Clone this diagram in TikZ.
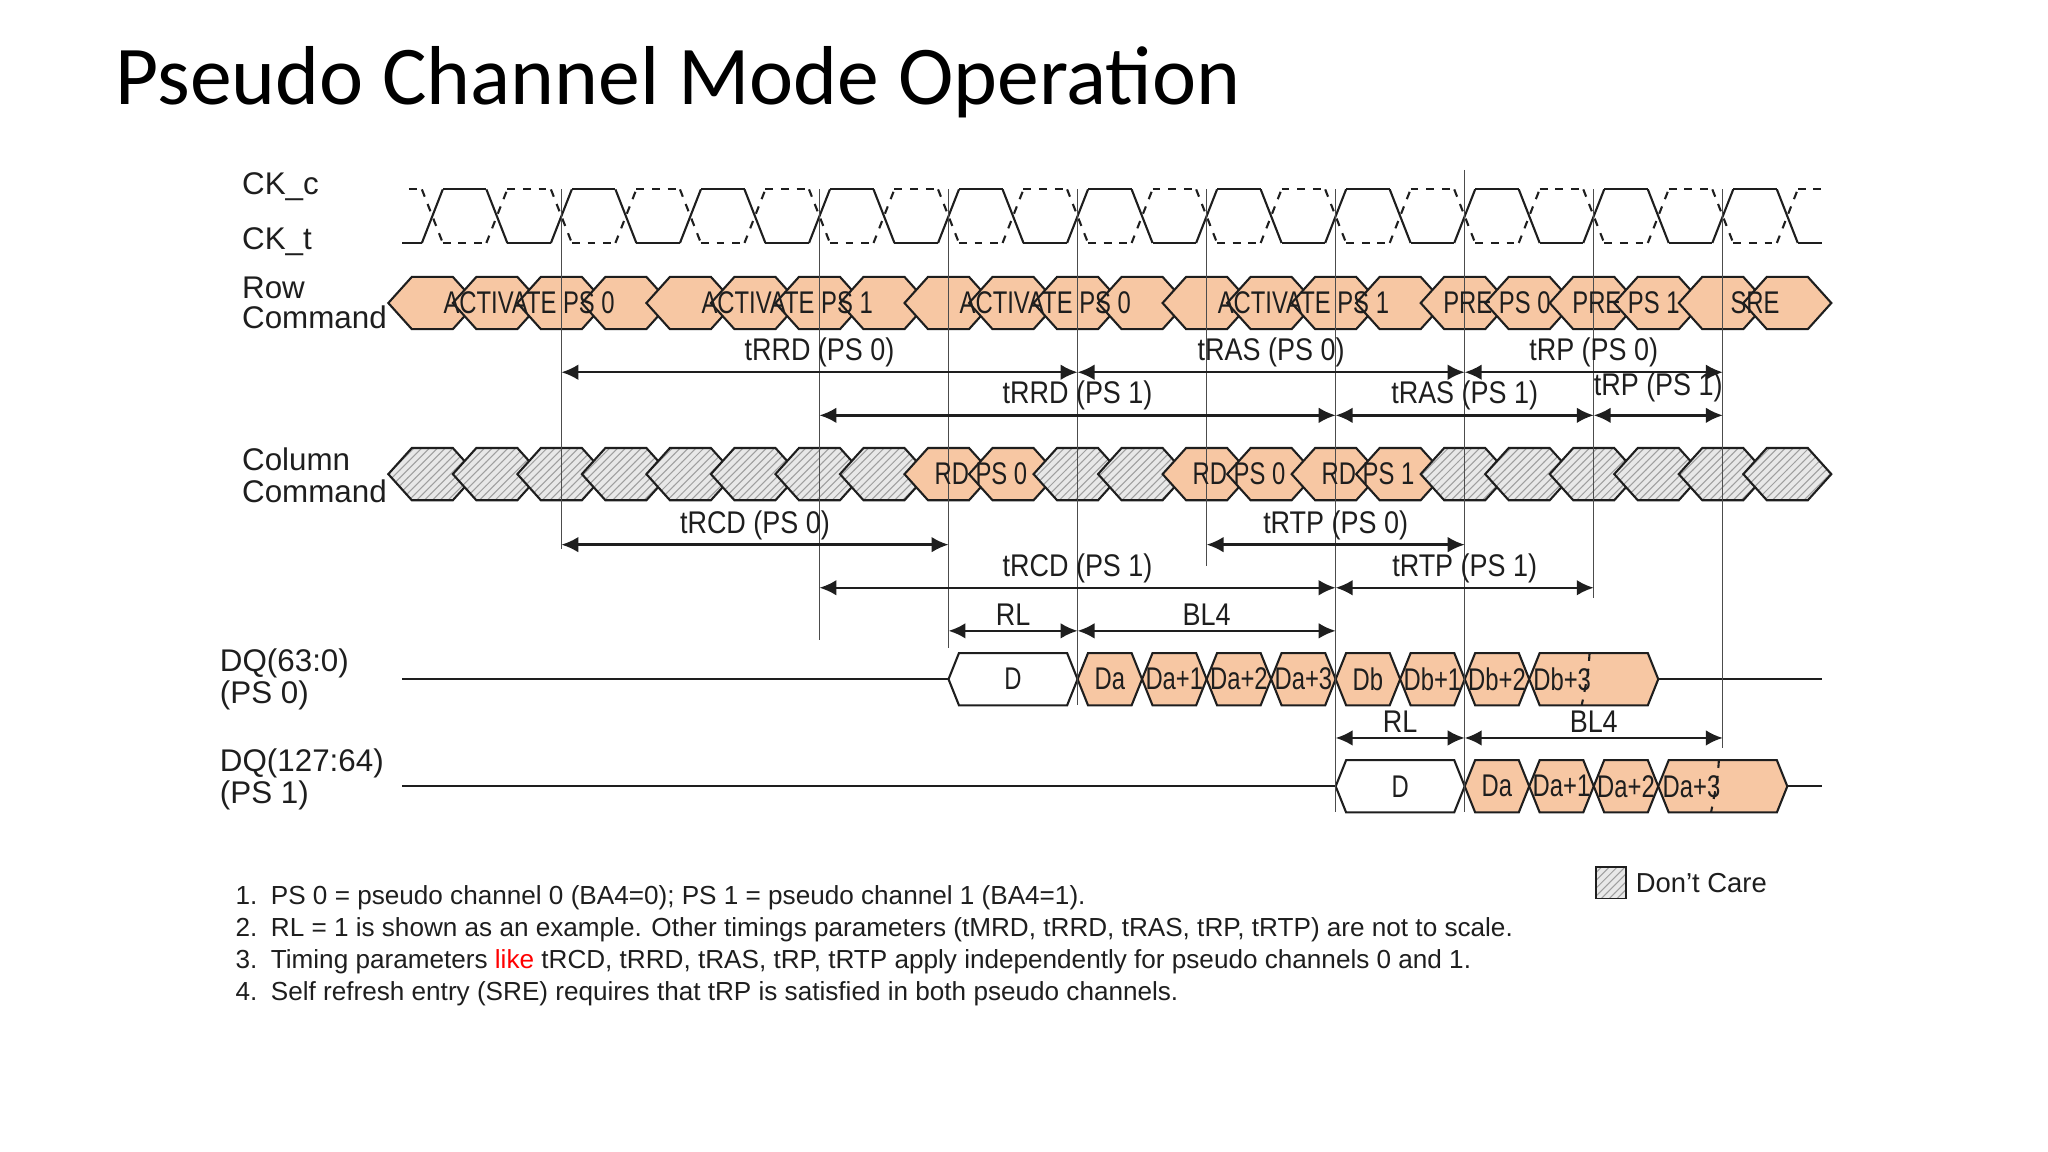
\documentclass[tikz,border=0pt]{standalone}
\usepackage{fontspec}
\setmainfont{Liberation Sans}
\newfontfamily\titlef{Carlito}
\newfontfamily\hexf{Liberation Sans}[FakeStretch=0.76]
\newfontfamily\lblf{Liberation Sans}[FakeStretch=0.86]
\usetikzlibrary{arrows.meta,patterns}
\definecolor{peach}{HTML}{F7C7A3}
\definecolor{ink}{HTML}{1E1E1E}
\tikzset{
  sig/.style={draw=ink,line width=0.8pt},
  hexo/.style={sig,fill=peach},
  hexw/.style={sig,fill=white},
  hexd/.style={sig,preaction={fill=gray!18},pattern=north east lines,pattern color=gray!75},
  vline/.style={draw=gray!60!black,line width=0.5pt},
  dim/.style={draw=ink,line width=0.9pt,{Latex[length=6.5pt,width=6pt]}-{Latex[length=6.5pt,width=6pt]}},
  dlab/.style={above,inner sep=1.5pt,font=\lblf\fontsize{12}{12}\selectfont,text=ink},
  htxt/.style={font=\hexf\fontsize{12}{12}\selectfont,text=ink,inner sep=0pt},
  side/.style={anchor=west,align=left,text=ink,inner sep=0pt},
  note/.style={anchor=west,text=ink,inner sep=0pt,font=\fontsize{10}{12}\selectfont}
}
% cell hexagon with tips overlapping the boundaries (x_l, x_r, y_center)
\newcommand\chex[4]{\path[#4] ({#1-9},#3) -- ({#1+9},#3-20) -- ({#2-9},#3-20) -- ({#2+9},#3) -- ({#2-9},#3+20) -- ({#1+9},#3+20) -- cycle;}
% data hexagon with tips at the boundaries
\newcommand\dhex[4]{\path[#4] (#1,#3) -- ({#1+8},#3-20) -- ({#2-8},#3-20) -- (#2,#3) -- ({#2-8},#3+20) -- ({#1+8},#3+20) -- cycle;}
\begin{document}
\begin{tikzpicture}[x=0.5pt,y=-0.5pt]
\useasboundingbox[fill=white] (0,0) rectangle (1568,882);
% title
\node[anchor=west,inner sep=0pt,font=\titlef\fontsize{32}{36}\selectfont] (title) at (88,63) {Pseudo Channel Mode Operation};
% side labels
\node[side,font=\fontsize{12}{12}\selectfont] (ckc) at (185,143) {CK\_c};
\node[side,font=\fontsize{12}{12}\selectfont] (ckt) at (185,185) {CK\_t};
\node[side,font=\fontsize{12}{11.5}\selectfont] (rowl) at (185,232) {Row\\Command};
\node[side,font=\fontsize{12}{12}\selectfont] (coll) at (185,364) {Column\\Command};
\node[side,font=\fontsize{12}{9}\selectfont] (dq0l) at (168,520) {DQ(63:0)\\(PS 0)};
\node[side,font=\fontsize{12}{9}\selectfont] (dq1l) at (168,597) {DQ(127:64)\\(PS 1)};
% clock
\draw[sig] (308,186) -- (323,186);
\draw[sig,dashed] (313,145) -- (323,145);
\foreach \k in {0,...,21}{
  \pgfmathsetmacro\xc{331+49.4*\k}
  \pgfmathsetmacro\xn{331+49.4*(\k+1)}
  \ifodd\k
    \draw[sig] ({\xc-8},145) -- ({\xc+8},186);
    \draw[sig,dashed] ({\xc-8},186) -- ({\xc+8},145);
    \ifnum\k<21
      \draw[sig] ({\xc+8},186) -- ({\xn-8},186);
      \draw[sig,dashed] ({\xc+8},145) -- ({\xn-8},145);
    \fi
  \else
    \draw[sig] ({\xc-8},186) -- ({\xc+8},145);
    \draw[sig,dashed] ({\xc-8},145) -- ({\xc+8},186);
    \draw[sig] ({\xc+8},145) -- ({\xn-8},145);
    \draw[sig,dashed] ({\xc+8},186) -- ({\xn-8},186);
  \fi
}
\draw[sig] (1376.4,186) -- (1395,186);
\draw[sig,dashed] (1376.4,145) -- (1395,145);
% row and column command cells
\foreach \k in {0,...,21}{
  \pgfmathsetmacro\bl{306.3+49.4*\k}
  \pgfmathsetmacro\br{306.3+49.4*(\k+1)}
  \chex{\bl}{\br}{232}{hexo}
  \def\st{hexd}
  \ifnum\k=8 \def\st{hexo}\fi
  \ifnum\k=9 \def\st{hexo}\fi
  \ifnum\k>11 \ifnum\k<16 \def\st{hexo}\fi\fi
  \chex{\bl}{\br}{363}{\st}
}
% DQ0
\draw[sig] (308,520) -- (726.2,520);
\dhex{726.2}{825}{520}{hexw}
\dhex{825}{874.4}{520}{hexo}
\dhex{874.4}{923.8}{520}{hexo}
\dhex{923.8}{973.2}{520}{hexo}
\dhex{973.2}{1022.6}{520}{hexo}
\dhex{1022.6}{1072}{520}{hexo}
\dhex{1072}{1121.4}{520}{hexo}
\dhex{1121.4}{1170.8}{520}{hexo}
\dhex{1170.8}{1269.6}{520}{hexo}
\draw[sig] (1269.6,520) -- (1395,520);
\draw[sig,dashed] (1217,500) .. controls (1216,515) .. (1211,540);
% DQ1
\draw[sig] (308,602) -- (1022.6,602);
\dhex{1022.6}{1121.4}{602}{hexw}
\dhex{1121.4}{1170.8}{602}{hexo}
\dhex{1170.8}{1220.2}{602}{hexo}
\dhex{1220.2}{1269.6}{602}{hexo}
\dhex{1269.6}{1368.4}{602}{hexo}
\draw[sig] (1368.4,602) -- (1395,602);
\draw[sig,dashed] (1316,582) .. controls (1315,597) .. (1310,622);
% vertical reference lines
\draw[vline] (429.8,145) -- (429.8,420);
\draw[vline] (627.4,145) -- (627.4,490);
\draw[vline] (726.2,145) -- (726.2,496);
\draw[vline] (825,145) -- (825,540);
\draw[vline] (923.8,145) -- (923.8,433);
\draw[vline] (1022.6,145) -- (1022.6,622);
\draw[vline] (1121.4,130) -- (1121.4,622);
\draw[vline] (1220.2,145) -- (1220.2,458);
\draw[vline] (1319,145) -- (1319,573);
% texts in cells
\node[htxt] (r1) at (405.1,232) {ACTIVATE PS 0};
\node[htxt] (r2) at (602.7,232) {ACTIVATE PS 1};
\node[htxt] (r3) at (800.3,232) {ACTIVATE PS 0};
\node[htxt] (r4) at (997.9,232) {ACTIVATE PS 1};
\node[htxt] (r5) at (1146.1,232) {PRE PS 0};
\node[htxt] (r6) at (1244.9,232) {PRE PS 1};
\node[htxt] (r7) at (1343.7,232) {SRE};
\node[htxt] (c1) at (751,363) {RD PS 0};
\node[htxt] (c2) at (948.6,363) {RD PS 0};
\node[htxt] (c3) at (1047.4,363) {RD PS 1};
\node[htxt] (d0) at (775.6,520) {D};
\node[htxt] (d1) at (849.7,520) {Da};
\node[htxt] (d2) at (899.1,520) {Da+1};
\node[htxt] (d3) at (948.5,520) {Da+2};
\node[htxt] (d4) at (997.9,520) {Da+3};
\node[htxt] (d5) at (1047.3,520) {Db};
\node[htxt] (d6) at (1096.7,520) {Db+1};
\node[htxt] (d7) at (1146.1,520) {Db+2};
\node[htxt] (d8) at (1196,520) {Db+3};
\node[htxt] (e0) at (1072,602) {D};
\node[htxt] (e1) at (1146.1,602) {Da};
\node[htxt] (e2) at (1195.5,602) {Da+1};
\node[htxt] (e3) at (1244.9,602) {Da+2};
\node[htxt] (e4) at (1295,602) {Da+3};
% timing arrows
\coordinate (A2) at (429.8,285); \coordinate (A10) at (825,285); \coordinate (A16) at (1121.4,285); \coordinate (A20) at (1319,285);
\coordinate (B6) at (627.4,318); \coordinate (B14) at (1022.6,318); \coordinate (B18) at (1220.2,318); \coordinate (B20) at (1319,318);
\coordinate (C2) at (429.8,417); \coordinate (C8) at (726.2,417); \coordinate (C12) at (923.8,417); \coordinate (C16) at (1121.4,417);
\coordinate (D6) at (627.4,450); \coordinate (D14) at (1022.6,450); \coordinate (D18) at (1220.2,450);
\coordinate (E8) at (726.2,483); \coordinate (E10) at (825,483); \coordinate (E14) at (1022.6,483);
\coordinate (F14) at (1022.6,565); \coordinate (F16) at (1121.4,565); \coordinate (F20) at (1319,565);
\draw[dim] (A2) -- node[dlab] {tRRD (PS 0)} (A10);
\draw[dim] (A10) -- node[dlab] {tRAS (PS 0)} (A16);
\draw[dim] (A16) -- node[dlab] {tRP (PS 0)} (A20);
\draw[dim] (B6) -- node[dlab] {tRRD (PS 1)} (B14);
\draw[dim] (B14) -- node[dlab] {tRAS (PS 1)} (B18);
\draw[dim] (B18) -- node[dlab,yshift=3pt] {tRP (PS 1)} (B20);
\draw[dim] (C2) -- node[dlab] {tRCD (PS 0)} (C8);
\draw[dim] (C12) -- node[dlab] {tRTP (PS 0)} (C16);
\draw[dim] (D6) -- node[dlab] {tRCD (PS 1)} (D14);
\draw[dim] (D14) -- node[dlab] {tRTP (PS 1)} (D18);
\draw[dim] (E8) -- node[dlab] {RL} (E10);
\draw[dim] (E10) -- node[dlab] {BL4} (E14);
\draw[dim] (F14) -- node[dlab] {RL} (F16);
\draw[dim] (F16) -- node[dlab] {BL4} (F20);
% legend
\path[sig,line width=0.6pt,preaction={fill=gray!18},pattern=north east lines,pattern color=gray!75] (1222,664) rectangle (1245,688);
\node[note,font=\fontsize{10.5}{12}\selectfont] (dc) at (1252,676) {Don't Care};
% notes
\node[note] (n1) at (180,687) {\makebox[13.5pt][l]{1.}PS 0 = pseudo channel 0 (BA4=0); PS 1 = pseudo channel 1 (BA4=1).};
\node[note] (n2) at (180,712) {\makebox[13.5pt][l]{2.}RL = 1 is shown as an example. Other timings parameters (tMRD, tRRD, tRAS, tRP, tRTP) are not to scale.};
\node[note] (n3) at (180,736) {\makebox[13.5pt][l]{3.}Timing parameters \textcolor{red}{like} tRCD, tRRD, tRAS, tRP, tRTP apply independently for pseudo channels 0 and 1.};
\node[note] (n4) at (180,761) {\makebox[13.5pt][l]{4.}Self refresh entry (SRE) requires that tRP is satisfied in both pseudo channels.};
\end{tikzpicture}
\end{document}
